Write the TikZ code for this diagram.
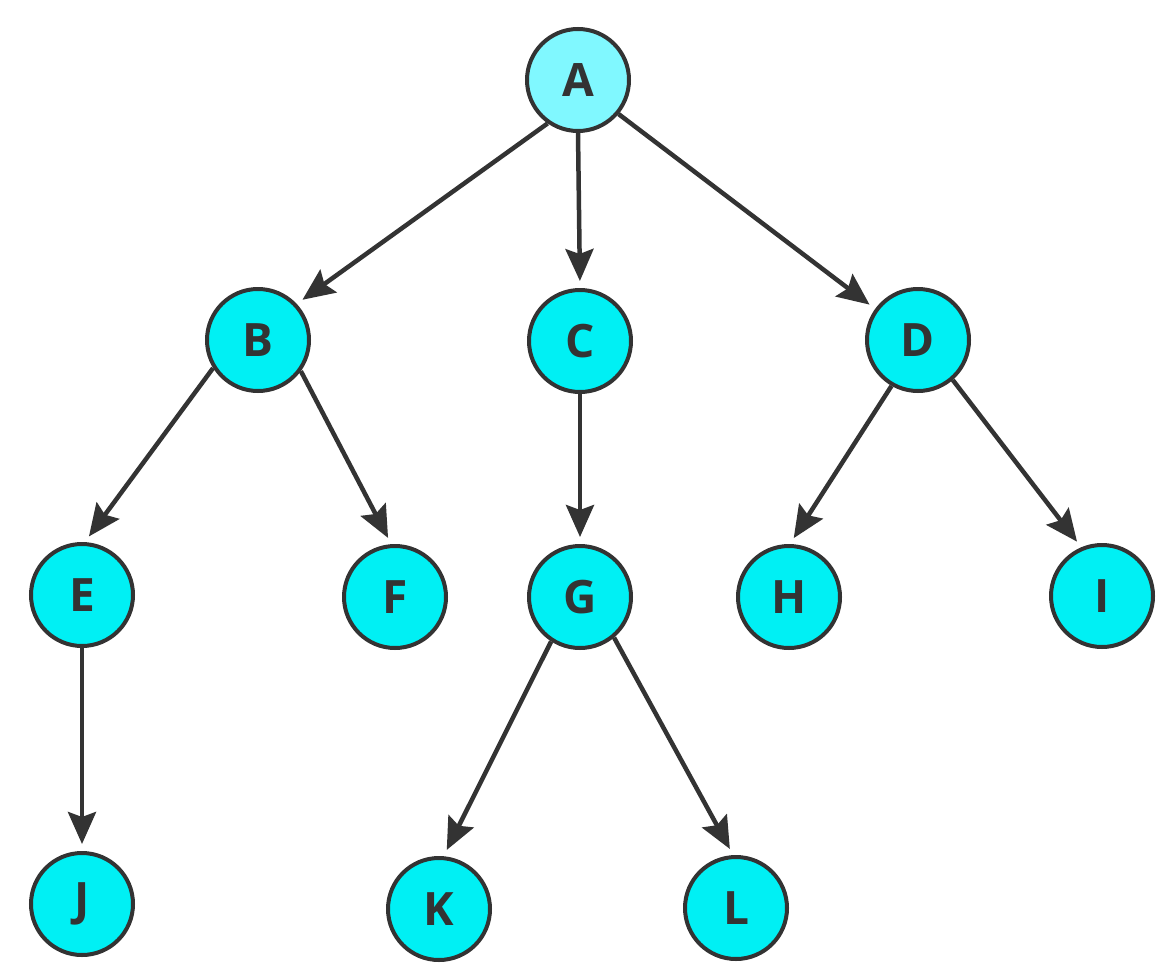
\documentclass[tikz,border=0pt]{standalone}
\usepackage{fontspec}
\setmainfont{Open Sans}
\usetikzlibrary{arrows.meta}
\definecolor{nodefill}{HTML}{00F0F4}
\definecolor{rootfill}{HTML}{80F8FF}
\definecolor{linec}{HTML}{333333}
\begin{document}
\begin{tikzpicture}[x=1pt,y=-1pt,
  tnode/.style={circle,draw=linec,line width=4pt,fill=nodefill,minimum size=102pt,inner sep=0pt,
    font=\fontsize{46}{50}\selectfont\bfseries,text=linec},
  edge/.style={draw=linec,line width=4.5pt,shorten >=7pt,-{Stealth[length=32pt,width=28pt,inset=5pt]}}]
\useasboundingbox (0,0) rectangle (1169,974);
\fill[white] (0,0) rectangle (1169,974);
\node[tnode,fill=rootfill] (A) at (578,80) {A};
\node[tnode] (B) at (258,340) {B};
\node[tnode] (C) at (580,341) {C};
\node[tnode] (D) at (918,340) {D};
\node[tnode] (E) at (82,595) {E};
\node[tnode] (F) at (395,597) {F};
\node[tnode] (G) at (580,597) {G};
\node[tnode] (H) at (789,597) {H};
\node[tnode] (I) at (1102,596) {I};
\node[tnode] (J) at (82,904) {J};
\node[tnode] (K) at (439,909) {K};
\node[tnode] (L) at (736,908) {L};
\draw[edge] (A.235) -- (B.43);
\draw[edge] (A.270) -- (C.90);
\draw[edge] (A.320) -- (D.144);
\draw[edge] (B.212) -- (E.87);
\draw[edge] (B.324) -- (F.94);
\draw[edge] (C.270) -- (G.90);
\draw[edge] (D.240) -- (H.89);
\draw[edge] (D.311) -- (I.113);
\draw[edge] (E.270) -- (J.90);
\draw[edge] (G.237) -- (K.85);
\draw[edge] (G.310) -- (L.93);
\end{tikzpicture}
\end{document}
